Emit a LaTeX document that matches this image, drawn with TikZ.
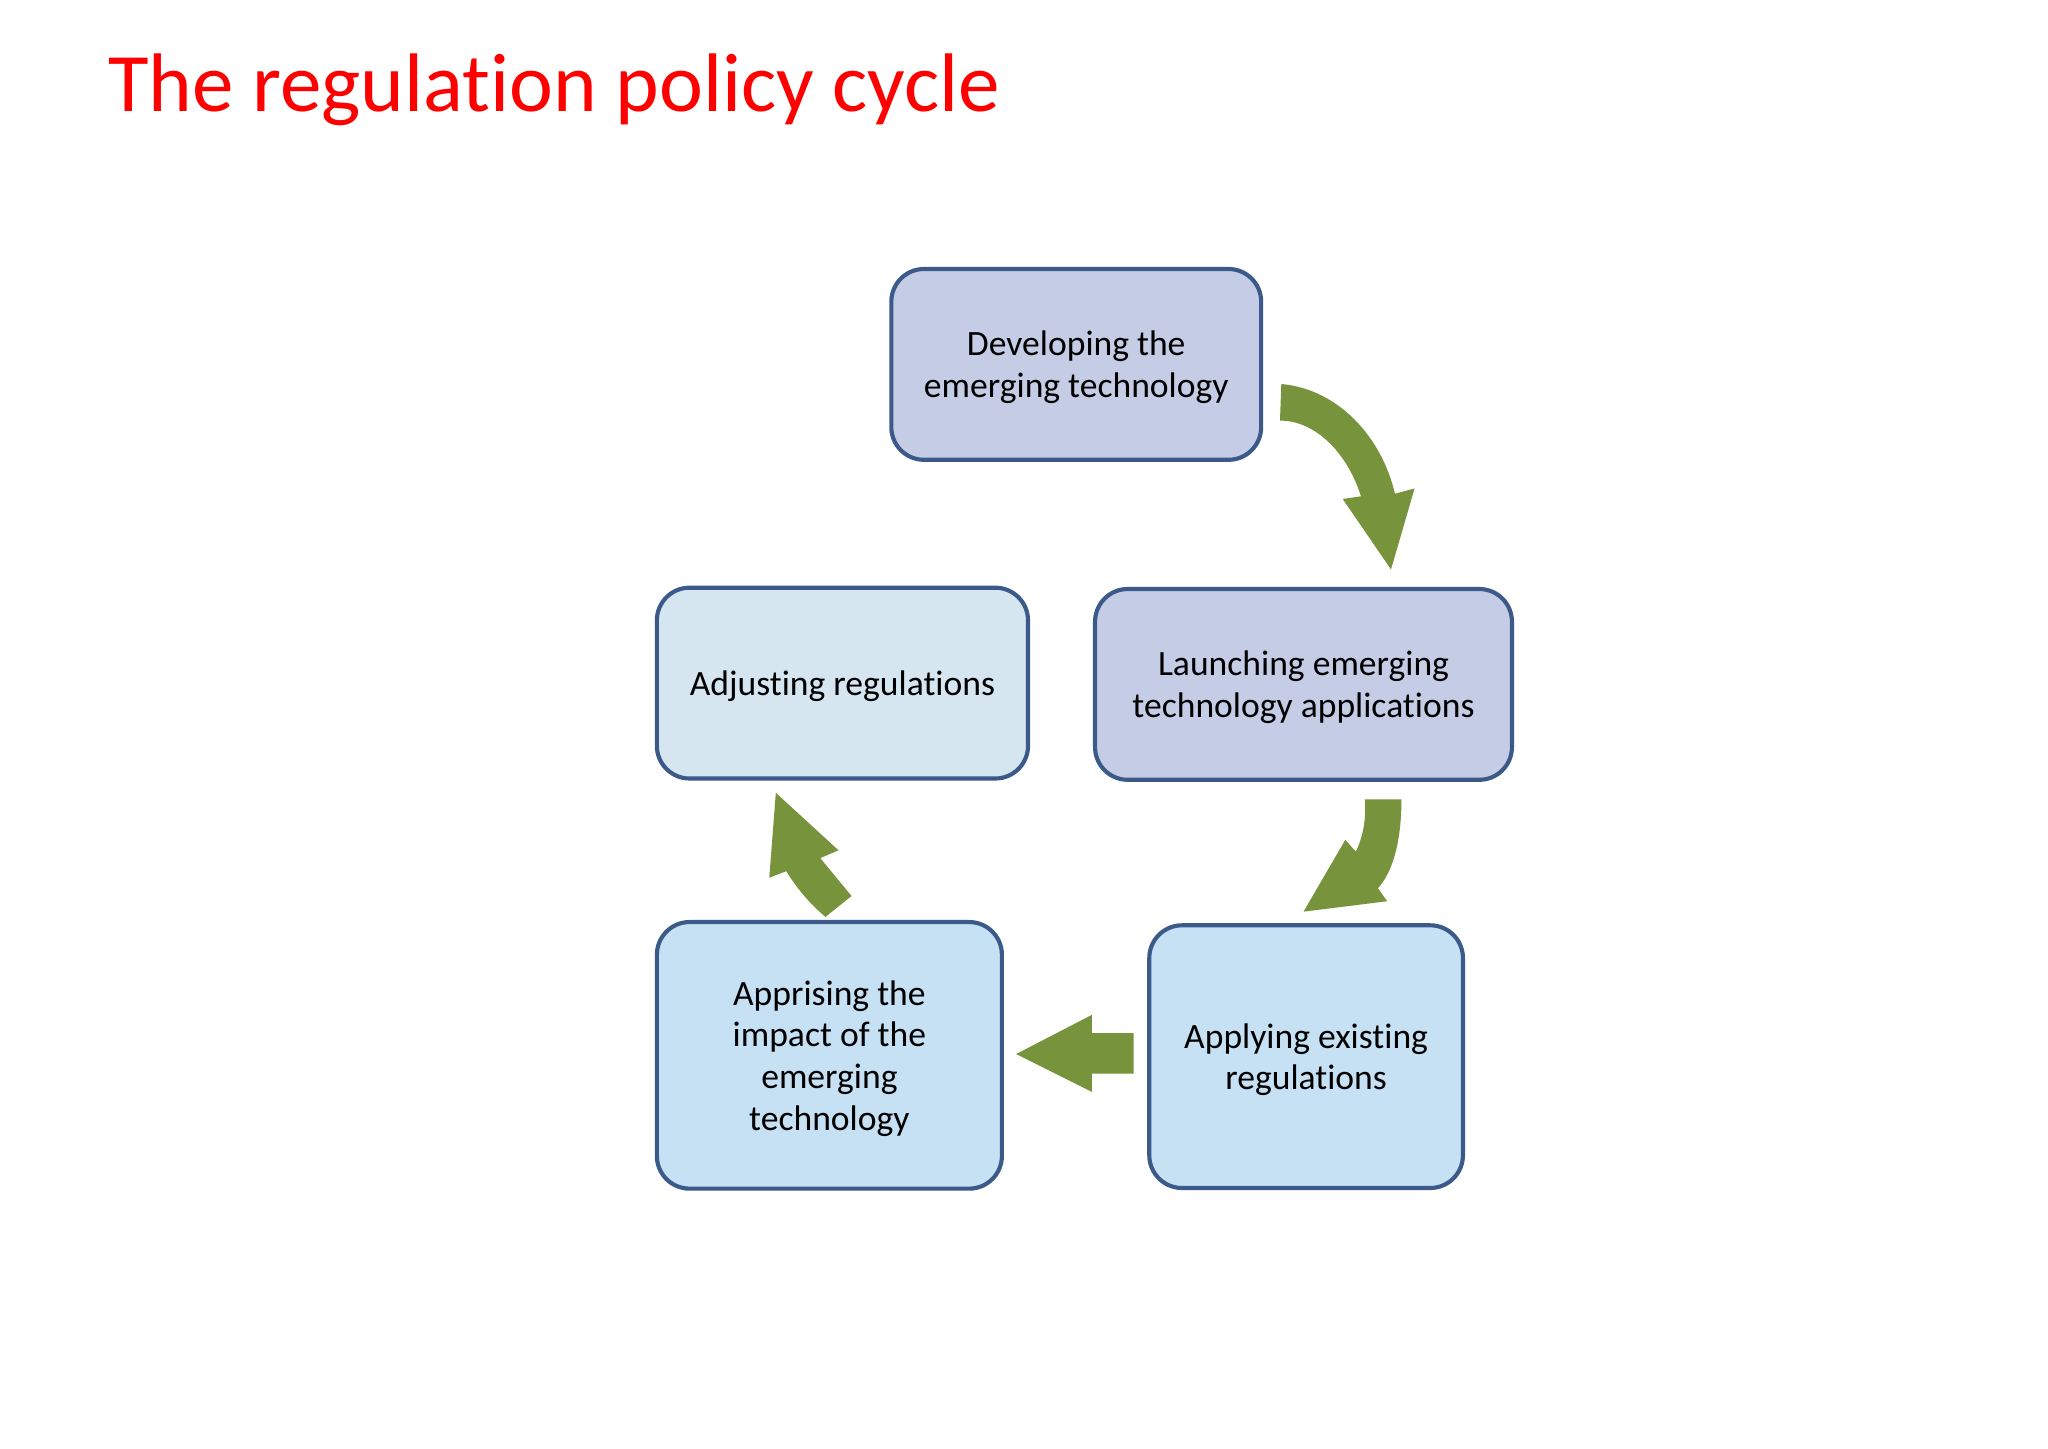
\documentclass[tikz,border=0pt]{standalone}
\usepackage{fontspec}
\setmainfont[Ligatures=NoCommon]{Carlito}
\definecolor{bord}{HTML}{3B5A8A}
\definecolor{lav}{HTML}{C5CDE6}
\definecolor{pale}{HTML}{D5E6F1}
\definecolor{sky}{HTML}{C6E0F4}
\definecolor{grn}{HTML}{77933C}
\begin{document}
\begin{tikzpicture}[x=0.01cm,y=-0.01cm,
 box/.style={draw=bord,line width=0.9pt,rounded corners=0.25cm,align=center,
   font=\fontsize{7.75}{9.1}\selectfont,inner sep=0pt,text depth=0pt},
 arr/.style={fill=grn,draw=none}]
\useasboundingbox (0,0) rectangle (1568,1109);
\node[anchor=base west,text=red,font=\fontsize{18.1}{20}\selectfont,inner sep=0pt] (title) at (82,85) {The regulation policy cycle};
\node[box,fill=lav,minimum width=2.83cm,minimum height=1.46cm] (dev) at (824,279) {Developing the\\emerging technology};
\node[box,fill=lav,minimum width=3.19cm,minimum height=1.46cm] (lau) at (998,524) {Launching emerging\\technology applications};
\node[box,fill=pale,minimum width=2.84cm,minimum height=1.46cm] (adj) at (645,523) {Adjusting regulations};
\node[box,fill=sky,minimum width=2.40cm,minimum height=2.01cm] (app) at (1000,809) {Applying existing\\regulations};
\node[box,fill=sky,minimum width=2.64cm,minimum height=2.04cm] (apr) at (635,808) {Apprising the\\impact of the\\emerging\\technology};
% arrows
\fill[arr] (981,294) .. controls (1025,298) and (1058,335) .. (1068,378) -- (1083,374) -- (1065,436) -- (1028,382) -- (1042,380) .. controls (1032,348) and (1008,322) .. (980,322) -- cycle;
\fill[arr] (1073,612) .. controls (1073,645) and (1066,668) .. (1055,680) -- (1062,690) -- (998,698) -- (1030,643) -- (1038,652) .. controls (1044,640) and (1046,626) .. (1045,612) -- cycle;
\fill[arr] (868,791) -- (836,791) -- (836,777) -- (778,807) -- (836,836) -- (836,822) -- (868,822) -- cycle;
\fill[arr] (652,686) -- (628,657) -- (642,651) -- (594,607) -- (589,672) -- (602,667) .. controls (610,680) and (620,692) .. (632,702) -- cycle;
\end{tikzpicture}
\end{document}
